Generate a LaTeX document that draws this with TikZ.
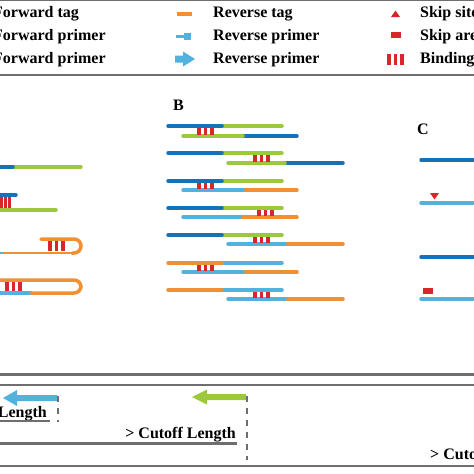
\documentclass[tikz,border=0pt]{standalone}
\usepackage{fontspec}
\setmainfont{Liberation Serif}
\definecolor{dblue}{RGB}{22,114,182}
\definecolor{lblue}{RGB}{82,178,222}
\definecolor{lgreen}{RGB}{156,200,60}
\definecolor{dorange}{RGB}{240,144,50}
\definecolor{dred}{RGB}{218,38,42}
\definecolor{rulegray}{RGB}{110,110,110}
\newcommand\bindbars[3]{\foreach \k in {0,1,2} {\fill[dred] ({#1+\k*6.5},#2) rectangle ({#1+\k*6.5+3.5},#3);}}
\newcommand\twoseg[6]{%
  \draw[strand,#6] (#3,#1) -- (#4,#1);
  \draw[strand,#5] (#2,#1) -- (#3,#1);}
\begin{document}
\begin{tikzpicture}[x=1pt,y=-1pt,
  every node/.style={font=\fontsize{16}{19}\selectfont\bfseries, inner sep=0pt},
  strand/.style={line width=3.5pt, line cap=round},
  rulel/.style={draw=rulegray, line width=2.5pt},
  cutdash/.style={draw=rulegray, line width=2.5pt, dash pattern=on 6pt off 6pt}]
\useasboundingbox (0,0) rectangle (474,474);
\clip (0,0) rectangle (474,474);
% ---------------- legend
\draw[rulel, line width=1.5pt] (0,0.5) -- (474,0.5);
\draw[rulel] (0,75) -- (474,75);
\node[anchor=base west] (l1) at (-7,17.5) {Forward tag};
\node[anchor=base west] (l2) at (-7,40) {Forward primer};
\node[anchor=base west] (l3) at (-7,63.5) {Forward primer};
\draw[dorange, line width=3.5pt] (177,14) -- (192,14);
\draw[lblue, line width=3pt] (176,36) -- (184,36);
\fill[lblue] (184,32.5) rectangle (191,39.5);
\fill[lblue] (175,55.5) -- (183,55.5) -- (183,51.5) -- (195,59) -- (183,66.5) -- (183,62.5) -- (175,62.5) -- cycle;
\node[anchor=base west] (m1) at (213,17.5) {Reverse tag};
\node[anchor=base west] (m2) at (213,40) {Reverse primer};
\node[anchor=base west] (m3) at (213,63.5) {Reverse primer};
\fill[dred] (391,17) -- (400,17) -- (395.5,10.5) -- cycle;
\fill[dred] (391,32) rectangle (401,38);
\bindbars{387}{54}{65}
\node[anchor=base west] (r1) at (420,17.5) {Skip site};
\node[anchor=base west] (r2) at (420,40) {Skip area};
\node[anchor=base west] (r3) at (420,63.5) {Binding site};
% ---------------- panel A
\twoseg{167}{-6}{13}{81}{dblue}{lgreen}
\draw[strand,dblue] (-6,195) -- (16,195);
\draw[strand,lgreen] (-6,210) -- (56,210);
\foreach \xx in {0,4,8} {\fill[dred] (\xx,197) rectangle (\xx+2.7,207.5);}
% hairpin 1
\draw[strand,dorange,rounded corners=7pt] (41,239) -- (81,239) -- (81,253) -- (72,253);
\draw[dorange, line width=2.2pt] (74,253) -- (3,253);
\draw[lblue, line width=2.2pt] (-6,253) -- (3,253);
\bindbars{48}{241}{251}
% hairpin 2
\draw[strand,lblue] (-6,293) -- (31,293);
\draw[strand,dorange,rounded corners=7pt] (-6,280) -- (81,280) -- (81,293) -- (31,293);
\bindbars{5}{282}{291}
% ---------------- panel B
\node[anchor=base west] (B) at (173,110) {B};
\twoseg{126}{168}{222}{282}{dblue}{lgreen}
\twoseg{136}{183}{243}{297}{lgreen}{dblue}
\bindbars{197}{127.5}{134.5}
\twoseg{153}{168}{222}{282}{dblue}{lgreen}
\twoseg{163}{228}{285}{343}{lgreen}{dblue}
\bindbars{253}{154.5}{161.5}
\twoseg{181}{168}{222}{282}{dblue}{lgreen}
\twoseg{190}{183}{243}{297}{lblue}{dorange}
\bindbars{197}{182.5}{188.5}
\twoseg{208}{168}{222}{282}{dblue}{lgreen}
\twoseg{217}{183}{240}{297}{lblue}{dorange}
\bindbars{257}{209.5}{215.5}
\twoseg{235}{168}{222}{282}{dblue}{lgreen}
\twoseg{244}{228}{285}{343}{lblue}{dorange}
\bindbars{253}{236.5}{242.5}
\twoseg{263}{168}{222}{282}{dorange}{lblue}
\twoseg{272}{183}{243}{297}{lblue}{dorange}
\bindbars{197}{264.5}{270.5}
\twoseg{290}{168}{222}{282}{dorange}{lblue}
\twoseg{299}{228}{285}{343}{lblue}{dorange}
\bindbars{253}{291.5}{297.5}
% ---------------- panel C
\node[anchor=base west] (C) at (417,134) {C};
\draw[strand,dblue] (421,160) -- (480,160);
\draw[strand,lblue] (421,203) -- (480,203);
\fill[dred] (430,193) -- (439,193) -- (434.5,199.5) -- cycle;
\draw[strand,dblue] (421,257) -- (480,257);
\draw[strand,lblue] (421,299) -- (480,299);
\fill[dred] (423,288) rectangle (433,294);
% ---------------- bottom
\draw[rulel] (0,374.5) -- (474,374.5);
\draw[rulel] (0,385) -- (474,385);
\fill[lblue] (3,398) -- (17,390) -- (17,395) -- (57,395) -- (57,401) -- (17,401) -- (17,406) -- cycle;
\draw[cutdash] (58,396) -- (58,422);
\node[anchor=base east] (c1) at (47,417) {> Cutoff Length};
\draw[rulel] (0,421) -- (50,421);
\fill[lgreen] (192,397) -- (207,389.5) -- (207,394) -- (246,394) -- (246,400) -- (207,400) -- (207,404.5) -- cycle;
\draw[cutdash] (247,396) -- (247,460);
\node[anchor=base east] (c2) at (236,438) {> Cutoff Length};
\draw[rulel] (0,443.5) -- (237,443.5);
\node[anchor=base west] (c3) at (430,459.5) {> Cutoff Length};
\draw[rulel] (0,466) -- (474,466);
\end{tikzpicture}
\end{document}
